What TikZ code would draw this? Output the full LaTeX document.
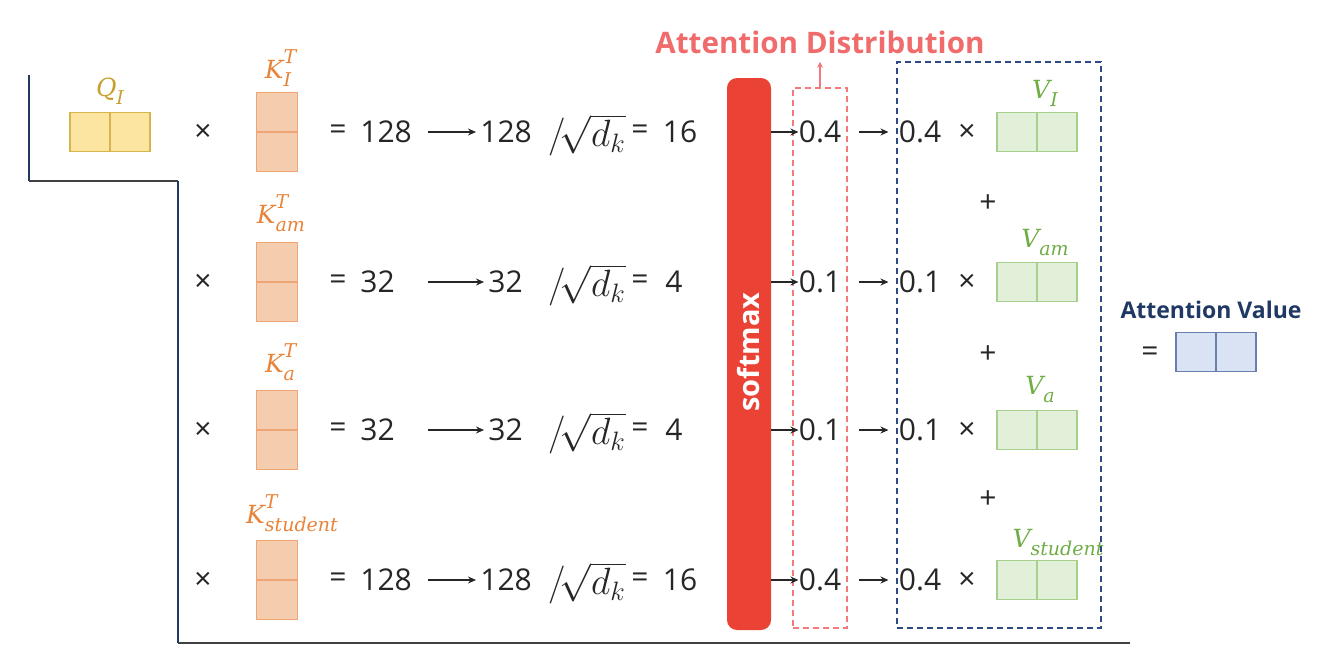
\documentclass[tikz,border=0pt]{standalone}
\usepackage{fix-cm}
\usepackage{fontspec}
\setmainfont{Open Sans}
\newfontfamily\lblfont{DejaVu Serif}
\usetikzlibrary{arrows.meta}
\newcommand\mylab[3]{{\lblfont\itshape\fontsize{12.5}{14}\selectfont #1\makebox[0pt][l]{\raisebox{0.62em}{\fontsize{9.5}{10}\selectfont #2}}\raisebox{-0.32em}{\fontsize{9.5}{10}\selectfont #3}}}
\definecolor{qfill}{HTML}{FBE5A0}
\definecolor{qline}{HTML}{D6B44E}
\definecolor{qlab}{HTML}{C9A02E}
\definecolor{kfill}{HTML}{F4CDAF}
\definecolor{kline}{HTML}{EEA474}
\definecolor{klab}{HTML}{E8833A}
\definecolor{vfill}{HTML}{E2EFD9}
\definecolor{vline}{HTML}{A8D08D}
\definecolor{vlab}{HTML}{70AD47}
\definecolor{afill}{HTML}{DAE3F3}
\definecolor{aline}{HTML}{6A7FAF}
\definecolor{navy}{HTML}{1F3864}
\definecolor{dnavy}{HTML}{2E4A86}
\definecolor{smred}{HTML}{EA4335}
\definecolor{pinkd}{HTML}{F4777A}
\definecolor{pinklab}{HTML}{F06B6B}
\definecolor{txtc}{HTML}{262626}
\begin{document}
\begin{tikzpicture}[x=0.5pt,y=-0.5pt,
  font=\fontsize{15}{18}\selectfont,
  txt/.style={inner sep=0pt, text=txtc},
  lab/.style={inner sep=0pt},
  kbox/.style={draw=kline, fill=kfill, line width=0.7pt, minimum width=20.5pt, minimum height=39.5pt, inner sep=0pt},
  hbox/.style={line width=0.7pt, minimum width=40pt, minimum height=19.5pt, inner sep=0pt},
  arr/.style={-{Stealth[length=4pt,width=3.5pt]}, line width=0.6pt, draw=txtc},
  dashbox/.style={dash pattern=on 3pt off 2pt, line width=0.7pt, minimum width=#1, inner sep=0pt}]
\useasboundingbox (0,0) rectangle (1326,664);
% frame lines
\coordinate (f1) at (29,75);
\coordinate (f2) at (29,181);
\coordinate (f3) at (178,181);
\coordinate (f4) at (178,643);
\coordinate (f5) at (1130,643);
\draw[navy, line width=0.8pt] (f1) -- (f2);
\draw[black!75, line width=1pt] (f2) -- (f3);
\draw[navy, line width=0.8pt] (f3) -- (f4);
\draw[black!75, line width=1.2pt] (f4) -- (f5);
% Q
\node[hbox, draw=qline, fill=qfill] (q) at (110,132) {};
\draw[qline, line width=0.7pt] (q.north) -- (q.south);
\node[lab, text=qlab] (ql) at (110,91) {\mylab{Q}{}{I}};
\node[txt] (x0) at (203,133) {×};
% softmax
\node[fill=smred, rounded corners=5pt, minimum width=22pt, minimum height=276pt, inner sep=0pt] (sm) at (749,354) {};
\node[rotate=90, text=white, font=\fontsize{14.5}{16}\selectfont\bfseries] (smt) at (749,352) {softmax};
% dashed boxes
\node[dashbox=27pt, draw=pinkd, minimum height=270pt] (pd) at (820,358) {};
\node[dashbox=102pt, draw=dnavy, minimum height=283pt] (bd) at (999,345) {};
\node[inner sep=0pt, text=pinklab, font=\fontsize{14.8}{17}\selectfont\bfseries] (adl) at (820,42) {Attention Distribution};
\draw[-{Stealth[length=3pt,width=3pt]}, pinkd, line width=0.7pt] (pd.north) -- ([yshift=-4pt]adl.south -| pd.north);
% rows
\foreach \i/\y/\a/\aw/\b/\bx/\p/\ksub/\kx/\ky/\vsub/\vx/\vy in {
  1/132/128/480/16/680/0.4/I/278/68/I/1045/93,
  2/282/32/488/4/674/0.1/am/281/213/am/1045/243,
  3/430/32/488/4/674/0.1/a/280/362/a/1040/390,
  4/580/128/480/16/680/0.4/student/292/513/student/1058/543}{
  \ifnum\i>1 \node[txt] (x\i) at (203,\y+1) {×}; \fi
  \node[kbox] (k\i) at (277,\y) {};
  \draw[kline, line width=0.7pt] (k\i.west) -- (k\i.east);
  \node[lab, text=klab] (kl\i) at (\kx,\ky) {\mylab{K}{T}{\ksub}};
  \node[txt] (e\i) at (338,\y) {=};
  \node[txt, anchor=west] (n\i) at (360,\y) {\a};
  \node[txt, anchor=west] (m\i) at (\aw,\y) {\a};
  \coordinate (as\i) at (428,\y);
  \draw[arr] (as\i) -- ([xshift=-2pt]m\i.west);
  \node[txt, font=\fontsize{19}{22}\selectfont] (s\i) at (587,\y+3) {$\big/\!\sqrt{d_k}$};
  \node[txt] (ee\i) at (640,\y) {=};
  \node[txt] (r\i) at (\bx,\y) {\b};
  \node[txt] (d\i) at (820,\y) {\p};
  \draw[arr] (sm.east |- d\i.west) -- (d\i.west);
  \node[txt] (w\i) at (920,\y) {\p};
  \draw[arr] ([xshift=8.5pt]d\i.east) -- ([xshift=-5pt]w\i.west);
  \node[txt] (t\i) at (967,\y+1) {×};
  \node[hbox, draw=vline, fill=vfill] (v\i) at (1037,\y) {};
  \draw[vline, line width=0.7pt] (v\i.north) -- (v\i.south);
  \node[lab, text=vlab] (vl\i) at (\vx,\vy) {\mylab{V}{}{\vsub}};
}
\node[txt] (p1) at (988,204) {+};
\node[txt] (p2) at (988,355) {+};
\node[txt] (p3) at (988,500) {+};
% attention value
\node[inner sep=0pt, text=navy, font=\fontsize{11.5}{13}\selectfont\bfseries] (avl) at (1211,310) {Attention Value};
\node[txt] (ae) at (1150,354) {=};
\node[hbox, draw=aline, fill=afill] (av) at (1216,352) {};
\draw[aline, line width=0.7pt] (av.north) -- (av.south);
\end{tikzpicture}
\end{document}
